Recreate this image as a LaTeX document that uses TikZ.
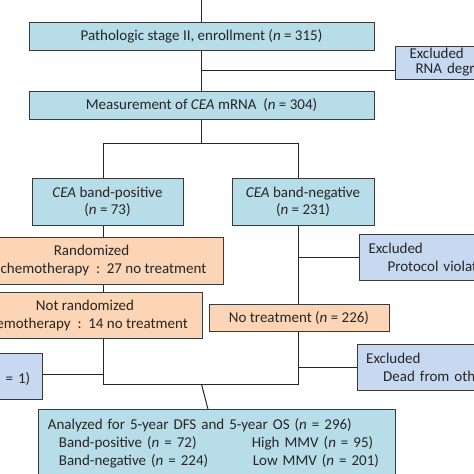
\documentclass[tikz,border=0pt]{standalone}
\usepackage{fontspec}
\setmainfont{Carlito}
\usetikzlibrary{positioning}
\definecolor{bluefill}{HTML}{B7DDE8}
\definecolor{orfill}{HTML}{FBD5B5}
\definecolor{exfill}{HTML}{C6D9F1}
\definecolor{edgec}{HTML}{3A3A3A}
\tikzset{
  base/.style={draw=edgec, line width=1pt, inner sep=0pt, text=black!85,
    font=\fontsize{15}{18}\selectfont, align=center},
  bluebox/.style={base, fill=bluefill},
  orbox/.style={base, fill=orfill},
  exbox/.style={base, fill=exfill, anchor=west, align=left, minimum width=200pt},
  link/.style={draw=black!85, line width=1pt}
}
\begin{document}
\begin{tikzpicture}[x=1pt, y=-1pt]
  \useasboundingbox (0,0) rectangle (474,474);
  \clip (0,0) rectangle (474,474);
  \node[bluebox, minimum width=345pt, minimum height=27.3pt] (enroll) at (201.5,36.4)
    {Pathologic stage II, enrollment (\textit{n} = 315)};
  \node[exbox, minimum height=33pt, text width=172pt, inner xsep=14pt,
    font=\fontsize{15}{15}\selectfont] (exRNA) at (395,62.5)
    {Excluded\\\hspace*{6pt}RNA degradation};
  \node[bluebox, minimum width=345pt, minimum height=27.6pt] (measure) at (201.5,105.5)
    {Measurement of \textit{CEA} mRNA\ \ (\textit{n} = 304)};
  \node[bluebox, minimum width=151pt, minimum height=47pt, font=\fontsize{15}{17.3}\selectfont] (pos) at (107.5,201.5)
    {\textit{CEA} band-positive\\(\textit{n} = 73)};
  \node[bluebox, minimum width=142pt, minimum height=47pt, font=\fontsize{15}{17.3}\selectfont] (neg) at (303,201.5)
    {\textit{CEA} band-negative\\(\textit{n} = 231)};
  \node[orbox, minimum width=263pt, minimum height=47pt] (rand) at (91.5,260.5)
    {Randomized\\\hspace*{24pt}chemotherapy\ \ :\ \ 27 no treatment};
  \node[orbox, minimum width=234pt, minimum height=45.6pt] (notrand) at (85,315.5)
    {Not randomized\\chemotherapy\ \ :\ \ 14 no treatment};
  \node[exbox, minimum height=46.4pt, text width=182pt, inner xsep=9pt] (exProt) at (359,257.5)
    {Excluded\\\hspace*{19pt}Protocol violation};
  \node[orbox, minimum width=180pt, minimum height=27.7pt] (notreat) at (299,317.9)
    {No treatment (\textit{n} = 226)};
  \node[exbox, minimum height=46pt, anchor=east, align=right, minimum width=120pt,
    text width=104pt, inner xsep=12pt] (exLost) at (42.7,376)
    {\mbox{}\\(\textit{n} = 1)};
  \node[exbox, minimum height=46.7pt, text width=182pt, inner xsep=9pt] (exDead) at (356.7,367.4)
    {Excluded\\\hspace*{17pt}Dead from other causes};
  \node[bluebox, anchor=north west, minimum width=357.3pt, minimum height=67pt,
    align=left, text width=338pt, inner xsep=9.3pt] (final) at (37.7,409)
    {Analyzed for 5-year DFS and 5-year OS (\textit{n} = 296)\\
     \hspace*{11pt}\makebox[193pt][l]{Band-positive (\textit{n} = 72)}High MMV (\textit{n} = 95)\\
     \hspace*{11pt}\makebox[194pt][l]{Band-negative (\textit{n} = 224)}Low MMV (\textit{n} = 201)};
  \coordinate (top) at (201.5,0);
  \coordinate (cut1) at (201.5,70.7);
  \coordinate (split) at (201.5,143.3);
  \coordinate (lcol) at (103,0);
  \coordinate (rcol) at (298.5,0);
  \coordinate (cut2) at (298.5,257.3);
  \coordinate (cut3) at (298.5,367.7);
  \coordinate (join) at (201.5,384.3);
  \draw[link] (top) -- (enroll);
  \draw[link] (enroll) -- (measure);
  \draw[link] (cut1) -- (cut1 -| exRNA.west);
  \draw[link] (measure) -- (split);
  \draw[link] (pos.north -| lcol) |- (split) -| (neg.north -| rcol);
  \draw[link] (pos.south -| lcol) -- (rand.north -| lcol);
  \draw[link] (rand.south -| lcol) -- (notrand.north -| lcol);
  \draw[link] (notrand.south -| lcol) |- (join -| rcol) -- (notreat.south -| rcol);
  \draw[link] (neg.south -| rcol) -- (notreat.north -| rcol);
  \draw[link] (cut2) -- (cut2 -| exProt.west);
  \draw[link] (cut3) -- (cut3 -| exDead.west);
  \draw[link] (exLost.east |- 0,374.3) -- (lcol |- 0,374.3);
  \draw[link] (join) -- (final);
\end{tikzpicture}
\end{document}
